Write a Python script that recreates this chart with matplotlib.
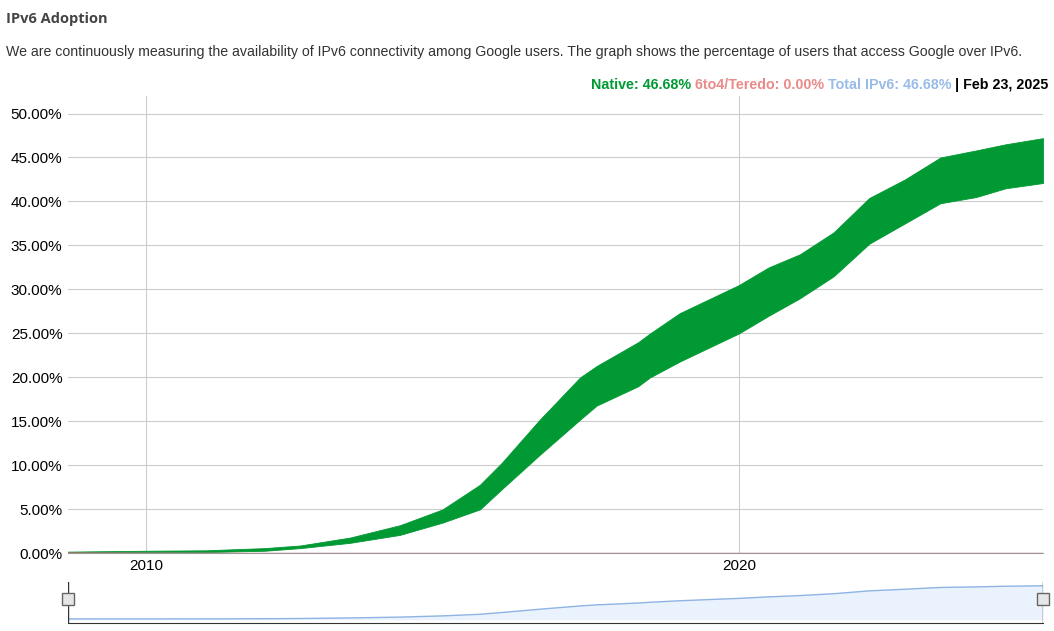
import matplotlib.pyplot as plt
import numpy as np

plt.rcParams['font.family'] = ['Liberation Sans', 'DejaVu Sans']

# envelope of the weekly swing of native IPv6 share (%)
years = [2008.68, 2010.0, 2011.0, 2012.0, 2012.6, 2013.44, 2014.28, 2015.0, 2015.63,
         2016.0, 2016.64, 2017.32, 2017.6, 2018.3, 2018.5, 2019.0, 2020.0, 2020.5,
         2021.03, 2021.6, 2022.2, 2022.8, 2023.4, 2024.0, 2024.5, 2025.13]
native_low = [0.1, 0.12, 0.15, 0.3, 0.6, 1.2, 2.1, 3.5, 5.0,
              7.3, 11.2, 15.2, 16.8, 19.0, 20.0, 21.8, 25.0, 27.0,
              29.0, 31.5, 35.2, 37.5, 39.8, 40.5, 41.5, 42.1]
native_high = [0.2, 0.3, 0.35, 0.6, 0.9, 1.8, 3.2, 5.0, 7.8,
               10.3, 15.2, 20.0, 21.3, 24.0, 25.0, 27.3, 30.5, 32.5,
               34.0, 36.5, 40.4, 42.5, 45.0, 45.8, 46.5, 47.2]
teredo = [0.05, 0.02, 0.01, 0.0, 0.0, 0.0, 0.0, 0.0, 0.0,
          0.0, 0.0, 0.0, 0.0, 0.0, 0.0, 0.0, 0.0, 0.0,
          0.0, 0.0, 0.0, 0.0, 0.0, 0.0, 0.0, 0.0]
total_mid = [(a + b) / 2 for a, b in zip(native_low, native_high)]

xmin, xmax = 2008.68, 2025.13
green = '#009933'

fig = plt.figure(figsize=(10.54, 6.31), dpi=100)

fig.text(0.006, 0.970, 'IPv6 Adoption', fontsize=10.5, fontweight='bold', color='#444444',
         family=['Open Sans', 'DejaVu Sans'], va='center')
fig.text(0.006, 0.918, 'We are continuously measuring the availability of IPv6 connectivity among Google users. '
         'The graph shows the percentage of users that access Google over IPv6.',
         fontsize=10.2, color='#333333', va='center')

# legend line, right aligned, built from right to left
parts = [('Native: 46.68%', green), (' 6to4/Teredo: 0.00%', '#ea8a8a'),
         (' Total IPv6: 46.68%', '#99bbe8'), (' | Feb 23, 2025', 'black')]
fig.canvas.draw()
r = fig.canvas.get_renderer()
x = 0.995
for txt, col in reversed(parts):
    t = fig.text(x, 0.865, txt, fontsize=10.3, fontweight='bold', color=col, ha='right', va='center')
    bb = t.get_window_extent(r)
    x -= bb.width / fig.bbox.width

ax = fig.add_axes([0.0645, 0.123, 0.925, 0.725])
ax.fill_between(years, native_low, native_high, color=green, lw=0.6, edgecolor=green)
ax.plot(years, teredo, color='#e06666', lw=0.8)
ax.set_xlim(xmin, xmax)
ax.set_ylim(0, 52)
ax.set_yticks(np.arange(0, 51, 5))
ax.set_yticklabels([f'{v:.2f}%' for v in np.arange(0, 51, 5)], fontsize=11)
ax.set_xticks([2010, 2020])
ax.set_xticklabels(['2010', '2020'], fontsize=11)
ax.grid(True, color='#cccccc', lw=0.8)
ax.set_axisbelow(True)
for s in ['top', 'right', 'left']:
    ax.spines[s].set_visible(False)
ax.spines['bottom'].set_color('#999999')
ax.tick_params(length=0, pad=4)

# navigator strip
nav = fig.add_axes([0.0645, 0.013, 0.925, 0.065])
nav.fill_between(years, 0, total_mid, color='#eaf3fd')
nav.plot(years, total_mid, color='#8fb4e3', lw=1)
nav.set_xlim(xmin, xmax)
nav.set_ylim(-5, 50)
nav.set_xticks([]); nav.set_yticks([])
for s in ['top', 'right', 'left']:
    nav.spines[s].set_visible(False)
nav.spines['bottom'].set_color('#333333')
nav.axvline(xmin, color='#333333', lw=1)
nav.axvline(xmax, color='#333333', lw=1)
for xp in [xmin, xmax]:
    nav.plot([xp], [27], marker='s', ms=8, mfc='#e6e6e6', mec='#666666', clip_on=False)

fig.savefig('out.png', dpi=100)
